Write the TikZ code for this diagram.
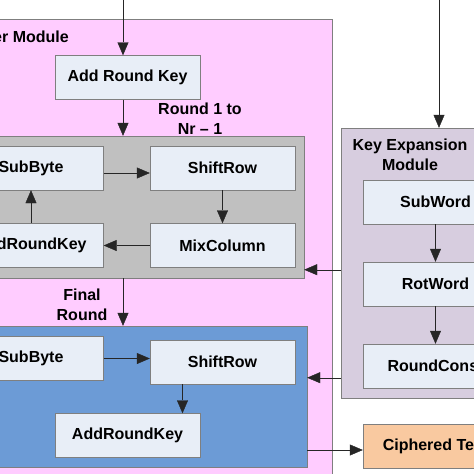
\documentclass[tikz,border=0pt]{standalone}
\usepackage{fontspec}
\setmainfont{Liberation Sans}
\usetikzlibrary{arrows.meta}

\definecolor{modpink}{HTML}{FFCCFF}
\definecolor{roundgray}{HTML}{C0C0C0}
\definecolor{finalblue}{HTML}{6C9BD6}
\definecolor{keypurple}{HTML}{D7CDDF}
\definecolor{boxfill}{HTML}{E8EEF7}
\definecolor{outpeach}{HTML}{F9C9A0}
\definecolor{boxline}{HTML}{7F7F7F}

\begin{document}
\begin{tikzpicture}[x=1pt,y=-1pt,
  font=\bfseries\fontsize{16}{20}\selectfont,
  stage/.style={draw=boxline,fill=boxfill,minimum width=145pt,minimum height=44pt,inner sep=0pt},
  frame/.style={draw=boxline,inner sep=0pt},
  flow/.style={draw=black!85,-{Triangle[length=13pt,width=11pt]}}]

\useasboundingbox (0,0) rectangle (474,474);
\clip (0,0) rectangle (474,474);

% modules
\node[frame,fill=modpink,minimum width=532pt,minimum height=600pt] (cipher) at (66,319) {};
\node[frame,fill=roundgray,minimum width=404pt,minimum height=142pt] (round) at (102,207) {};
\node[frame,fill=finalblue,minimum width=407pt,minimum height=141pt] (final) at (103.5,396.5) {};
\node[frame,fill=keypurple,minimum width=259pt,minimum height=270pt] (keyexp) at (470.5,263) {};

\node[anchor=base east,inner sep=0pt] (ciphertitle) at (69,42) {Cipher Module};
\node[align=center,inner sep=0pt] (roundtitle) at (200,119) {Round 1 to\\Nr -- 1};
\node[align=center,inner sep=0pt] (finaltitle) at (82,305) {Final\\Round};
\node[align=center,inner sep=0pt] (keytitle) at (410,155) {Key Expansion\\Module};

% stages
\node[stage] (ark0) at (127.5,77.5) {Add Round Key};
\node[stage] (sb1) at (31,168) {SubByte};
\node[stage] (sr1) at (222.5,168) {ShiftRow};
\node[stage] (mc1) at (222.5,245.5) {MixColumn};
\node[stage] (ark1) at (31,245.5) {AddRoundKey};
\node[stage] (sb2) at (31,358.5) {SubByte};
\node[stage] (sr2) at (222.5,362) {ShiftRow};
\node[stage] (ark2) at (127.5,435.5) {AddRoundKey};
\node[stage] (sw) at (435.5,202) {SubWord};
\node[stage] (rw) at (435.5,284) {RotWord};
\node[stage] (rc) at (435.5,366) {RoundConst};
\node[stage,fill=outpeach] (ct) at (435.5,446) {Ciphered Text};

\coordinate (plain) at (123,-5);
\coordinate (keyin) at (439,-5);
\coordinate (k1) at (keyexp.west |- mc1.south);
\coordinate (k2) at (keyexp.west |- sb2.south);
\coordinate (out) at (final.east |- 0,450);

% connectors
\draw[flow] (plain) -- (plain |- ark0.north);
\draw[flow] (plain |- ark0.south) -- (plain |- round.north);
\draw[flow] (plain |- round.south) -- (plain |- final.north);
\draw[flow] ([yshift=-5pt]sb1.east) -- ([yshift=-5pt]sb1.east -| sr1.west);
\draw[flow] (sr1) -- (mc1);
\draw[flow] (mc1) -- (ark1);
\draw[flow] (ark1) -- (sb1);
\draw[flow] (sb2.east) -- (sb2.east -| sr2.west);
\draw[flow] ([xshift=-40pt]sr2.south) -- ([xshift=-40pt]sr2.south |- ark2.north);
\draw[flow] (keyin) -- (keyin |- keyexp.north);
\draw[flow] (sw) -- (rw);
\draw[flow] (rw) -- (rc);
\draw[flow] ([yshift=-2pt]k1) -- ([yshift=-2pt]k1 -| round.east);
\draw[flow] ([yshift=3pt]k2) -- ([yshift=3pt]k2 -| final.east);
\draw[flow] (out) -- (out -| ct.west);

\end{tikzpicture}
\end{document}
